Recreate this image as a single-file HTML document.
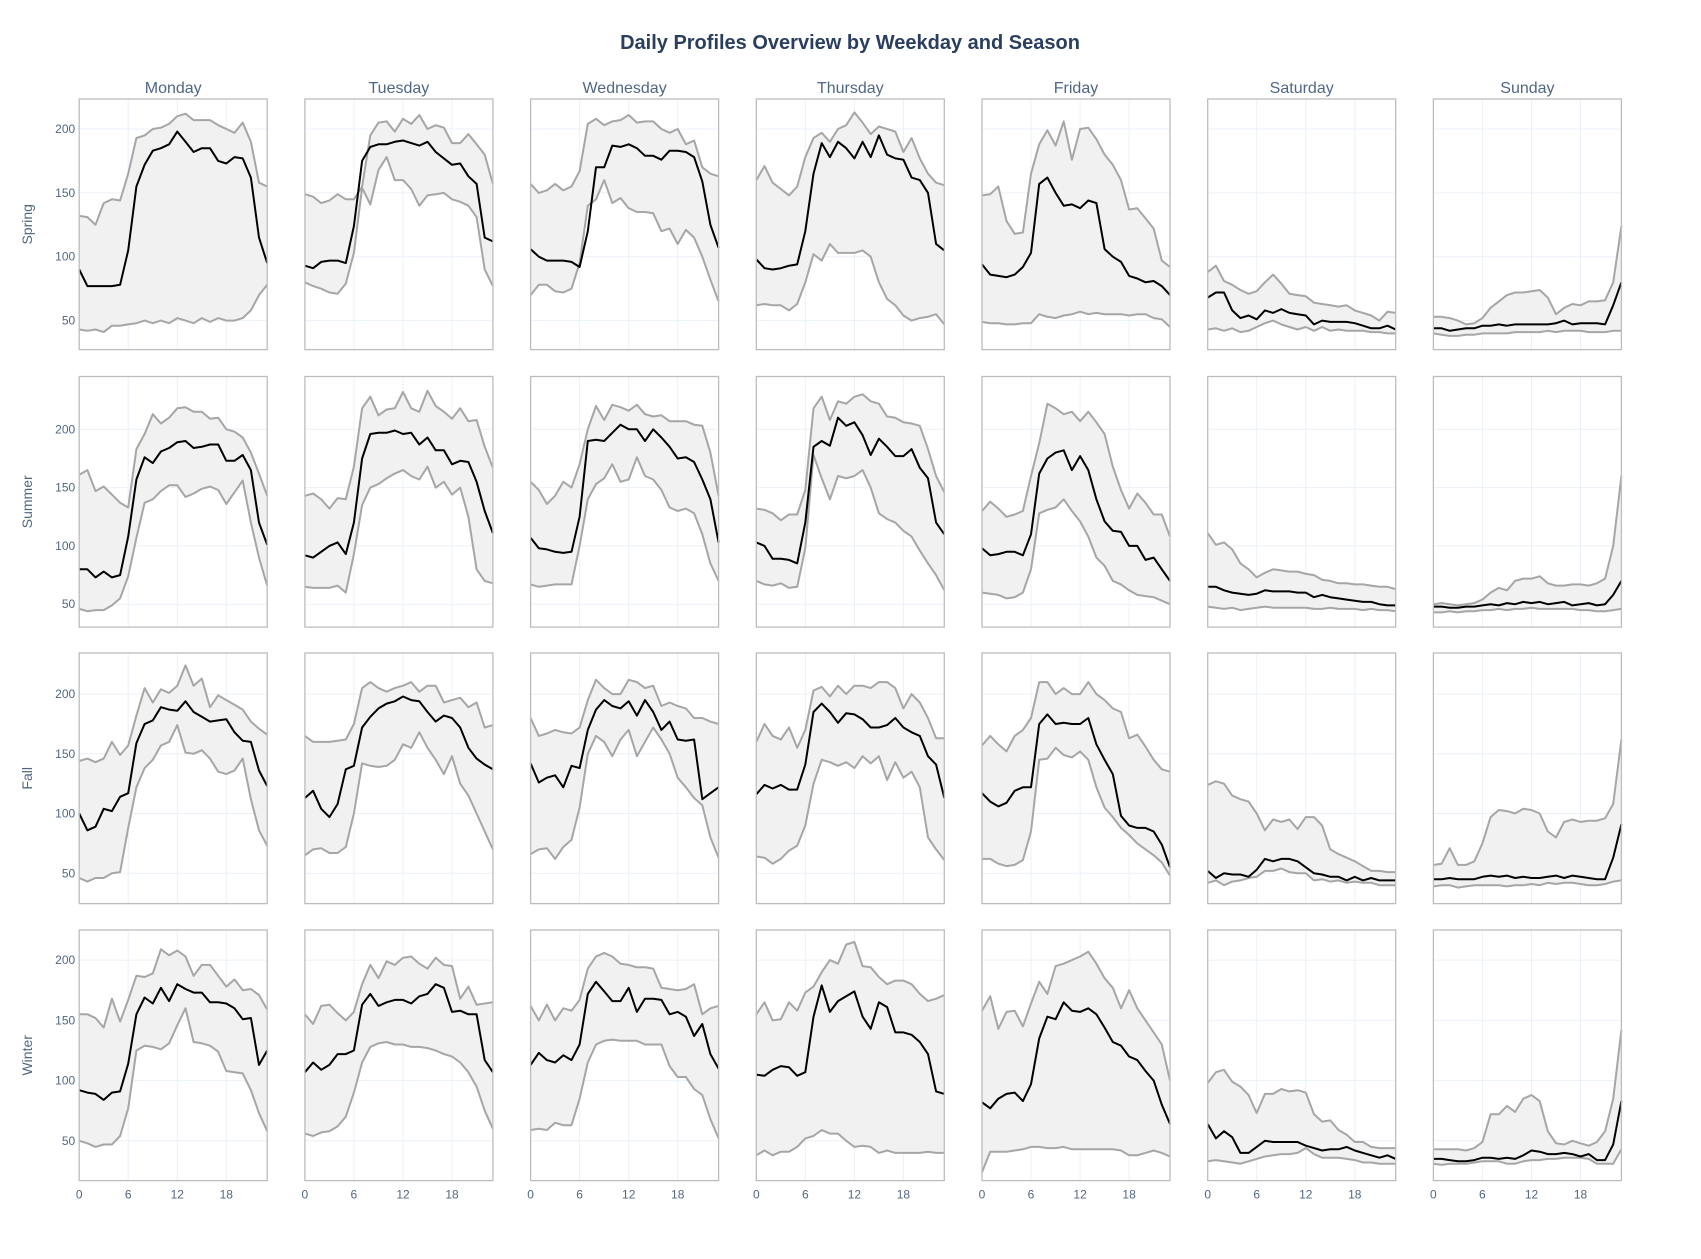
<!DOCTYPE html>
<html><head><meta charset="utf-8">
<style>
html,body{margin:0;padding:0;background:#fff;}
svg{display:block;font-family:"Liberation Sans","DejaVu Sans",sans-serif;}
</style></head>
<body>
<svg id="s" width="1701" height="1259" viewBox="0 0 1701 1259" xmlns="http://www.w3.org/2000/svg">
<rect width="1701" height="1259" fill="#fff"/>
<text x="850" y="49" text-anchor="middle" font-size="20" font-weight="bold" fill="#2a3f5f">Daily Profiles Overview by Weekday and Season</text>
</svg>
<script>
var days=["Monday","Tuesday","Wednesday","Thursday","Friday","Saturday","Sunday"];
var seasons=["Spring","Summer","Fall","Winter"];
var ranges=[[27.3,223.5],[30.4,245.3],[24.6,234.4],[17,225]];
var rowTop=[99,376.5,653,930], H=250.6, W=188;
function colLeft(c){return 79.2+c*225.7;}
// data[row][col] = [upper, mean, lower]
var D=[
[ // Spring
[[132,131,125,142,145,144,165,193,195,200,201,204,210,212,207,207,207,203,200,197,205,190,158,155],
 [90,77,77,77,77,78,105,155,172,183,185,188,198,190,182,185,185,175,173,178,177,162,115,95],
 [43,42,43,41,46,46,47,48,50,48,50,48,52,50,48,52,49,52,50,50,52,58,70,78]],
[[149,147,142,144,149,145,145,155,195,205,206,198,208,204,211,200,203,201,189,189,196,188,180,157],
 [93,91,96,97,97,95,124,175,186,188,188,190,191,189,187,190,182,177,172,173,163,157,115,112],
 [80,77,75,72,71,79,103,154,141,168,178,160,160,153,140,148,149,150,145,143,140,131,90,77]],
[[157,150,152,157,152,155,167,204,208,203,206,207,211,205,206,206,200,197,200,188,191,170,165,163],
 [106,100,97,97,97,96,92,120,170,170,187,186,188,185,179,179,176,183,183,182,178,159,125,107],
 [70,78,78,73,72,75,95,140,145,160,142,146,138,135,135,134,120,122,110,121,115,100,82,65]],
[[160,171,158,153,148,155,178,193,197,190,200,203,213,205,196,202,200,198,182,193,177,165,158,156],
 [98,91,90,91,93,94,120,165,189,178,190,185,177,190,178,195,180,177,176,162,160,150,110,105],
 [62,63,62,62,58,63,80,102,97,110,103,103,103,105,100,80,67,62,54,50,52,53,55,47]],
[[148,149,155,128,118,119,165,188,199,187,206,176,200,201,192,180,172,160,137,138,130,122,97,92],
 [94,86,85,84,86,92,103,157,162,150,140,141,138,144,142,106,100,96,85,83,80,81,77,70],
 [49,48,48,47,47,48,48,55,53,52,54,55,57,55,56,55,55,55,54,55,55,52,51,45]],
[[88,93,81,78,74,71,73,80,86,79,71,70,69,64,63,62,61,62,58,56,54,50,57,56],
 [68,72,72,58,52,54,51,58,56,59,56,55,54,47,50,49,49,49,48,46,44,44,46,43],
 [43,44,42,44,41,42,45,48,50,47,45,43,45,42,45,42,43,42,42,42,41,41,40,40]],
[[53,53,52,50,47,48,52,60,65,70,72,72,73,74,68,55,60,63,62,65,65,66,80,124],
 [44,44,42,43,44,44,46,46,47,46,47,47,47,47,47,48,50,47,48,48,48,47,62,80],
 [40,39,38,38,39,39,40,40,40,40,41,41,41,41,42,41,42,42,42,41,41,41,42,42]]
],
[ // Summer
[[161,165,147,151,144,137,133,183,196,213,205,210,218,219,215,215,209,210,200,198,193,180,162,143],
 [80,80,73,78,73,75,108,157,176,171,181,184,189,190,184,185,187,187,173,173,178,165,120,101],
 [46,44,45,45,49,55,74,107,137,140,147,152,152,142,145,149,151,148,136,146,156,120,90,66]],
[[143,145,140,132,141,140,168,218,228,212,217,218,232,218,215,233,220,215,209,218,207,208,185,167],
 [92,90,95,100,103,93,120,175,196,197,197,199,196,197,187,193,182,182,170,173,172,155,130,111],
 [65,64,64,64,66,60,93,135,150,153,158,162,165,160,157,168,150,155,144,150,125,80,70,68]],
[[155,148,136,143,155,150,170,200,220,208,221,219,216,221,213,211,212,207,207,207,204,203,180,143],
 [107,98,97,95,94,95,125,190,191,190,197,204,200,200,190,200,193,185,175,176,172,157,140,103],
 [67,65,66,67,67,67,100,140,153,158,170,155,157,176,160,157,148,133,130,132,128,110,85,70]],
[[132,131,128,122,127,127,148,218,228,208,224,222,228,230,224,222,211,210,206,205,203,183,160,146],
 [103,100,89,89,88,85,120,185,190,186,210,203,206,195,178,192,185,177,177,183,167,158,120,110],
 [70,67,66,68,64,65,98,178,158,140,160,158,160,165,150,128,123,120,113,108,96,85,75,62]],
[[130,138,132,125,127,130,160,188,222,218,213,215,207,215,206,196,168,148,132,145,137,127,127,108],
 [98,92,93,95,95,92,110,162,175,180,182,165,177,165,140,121,113,112,100,100,88,90,80,70],
 [60,59,58,55,56,60,80,128,131,133,140,130,121,108,90,83,70,67,62,58,57,56,53,50]],
[[111,101,103,97,85,80,73,77,80,79,78,78,76,75,71,70,68,68,67,67,66,65,65,63],
 [65,65,62,60,59,58,59,62,61,61,61,60,60,56,58,56,55,54,53,52,52,50,49,49],
 [48,47,46,47,45,46,47,48,47,47,47,47,47,46,46,47,46,46,46,45,46,45,45,44]],
[[50,51,50,49,50,51,54,60,64,62,70,72,72,74,68,66,66,67,67,66,68,72,100,160],
 [48,48,47,47,48,48,49,50,49,51,50,52,51,52,50,51,52,49,50,51,49,50,58,70],
 [43,43,44,43,44,44,45,45,46,45,46,46,47,46,46,46,46,46,45,45,44,44,45,46]]
],
[ // Fall
[[144,146,143,146,160,149,157,182,205,193,204,201,207,224,207,213,189,199,195,191,187,177,171,166],
 [100,86,89,104,102,114,117,159,175,178,189,187,186,194,185,181,177,178,179,168,161,160,136,123],
 [46,43,46,46,50,51,88,122,138,145,157,160,174,151,150,153,146,135,133,136,146,112,86,73]],
[[165,160,160,160,161,162,175,205,210,205,202,205,207,210,202,207,207,193,195,197,189,193,172,174],
 [113,119,104,97,108,137,140,172,181,188,192,194,198,195,194,185,177,182,180,172,155,146,141,137],
 [65,70,71,67,67,72,100,142,140,139,140,145,158,155,168,155,145,133,148,125,115,100,85,70]],
[[180,165,167,170,168,167,172,195,212,205,200,200,212,210,205,207,190,193,190,188,180,180,177,175],
 [142,126,130,132,122,140,138,170,187,195,190,188,194,182,195,185,170,177,162,161,162,112,117,122],
 [66,70,71,62,72,78,105,150,165,160,148,162,170,148,160,172,162,150,130,122,113,107,80,63]],
[[160,175,165,162,172,155,170,203,206,198,207,200,207,207,205,210,210,205,188,200,193,180,163,163],
 [116,124,121,124,120,120,141,185,192,185,176,184,183,179,172,172,174,180,172,168,165,148,141,113],
 [64,63,58,62,69,73,90,125,145,143,140,143,138,148,142,148,128,143,130,135,122,80,70,61]],
[[157,165,158,152,165,170,180,210,210,200,205,200,200,210,200,195,188,185,163,166,156,145,137,135],
 [117,110,106,109,119,122,122,175,183,175,176,175,175,180,158,145,133,98,90,88,88,85,74,55],
 [62,62,58,56,57,61,85,145,146,155,149,147,152,145,122,105,97,88,82,75,70,65,59,48]],
[[124,127,125,115,112,110,100,86,95,93,95,87,97,97,90,70,66,63,60,56,52,52,51,51],
 [52,46,50,49,49,47,53,62,60,62,62,60,55,50,49,47,47,44,47,44,46,44,44,44],
 [42,44,40,43,44,46,47,52,52,54,51,50,50,44,45,43,44,42,43,42,42,40,40,40]],
[[57,58,71,57,57,60,75,97,103,102,100,104,103,100,85,80,93,95,93,94,94,96,108,162],
 [45,45,46,45,45,45,47,48,47,48,46,47,46,46,47,48,46,48,47,46,45,45,63,91],
 [39,40,40,38,39,40,40,40,40,39,40,40,41,40,42,41,42,42,41,40,40,41,43,44]]
],
[ // Winter
[[155,155,152,144,168,149,167,187,186,189,209,204,208,203,187,196,196,187,178,184,175,176,171,159],
 [92,90,89,84,90,91,114,155,169,164,177,166,180,176,173,173,165,165,164,160,151,152,113,125],
 [50,48,45,47,47,54,77,125,129,128,126,131,146,160,132,131,129,124,108,107,106,92,73,58]],
[[155,147,162,163,156,150,157,180,196,185,199,196,202,203,197,193,202,196,195,168,178,163,164,165],
 [107,115,109,113,122,122,125,163,172,162,165,167,167,164,170,172,180,177,157,158,155,155,117,107],
 [56,54,57,58,62,70,90,115,128,131,132,130,130,128,128,127,125,122,120,115,107,95,75,60]],
[[162,150,163,150,160,158,167,193,203,206,203,197,196,194,194,193,177,176,175,176,180,155,160,162],
 [113,123,117,115,121,117,130,172,182,174,166,166,177,157,168,168,167,155,157,153,137,147,122,110],
 [59,60,59,65,63,63,85,115,130,133,134,133,133,133,130,130,130,112,103,103,93,88,68,52]],
[[155,165,150,151,165,158,173,178,190,200,197,213,215,195,194,186,180,183,183,180,172,166,168,171],
 [105,104,109,112,111,104,107,153,179,157,166,170,174,153,143,165,161,140,140,138,132,122,91,89],
 [38,42,38,41,41,45,52,54,59,56,56,50,45,46,45,40,42,40,40,40,40,41,40,40]],
[[158,170,143,157,158,145,164,182,172,195,197,200,203,207,197,185,177,160,175,160,150,140,130,100],
 [82,77,85,89,90,83,97,135,153,151,165,158,157,160,155,144,132,129,120,117,108,100,80,64],
 [24,41,41,41,42,43,45,45,44,44,45,43,43,43,43,43,43,42,38,38,40,42,40,37]],
[[98,107,109,99,95,88,73,89,89,93,91,92,90,72,66,67,59,55,49,49,45,44,44,44],
 [64,52,58,53,40,40,45,50,49,49,49,49,46,44,42,43,43,45,42,40,38,36,38,35],
 [33,34,33,32,31,33,35,37,38,39,39,40,44,39,36,36,36,35,34,32,32,31,31,31]],
[[43,43,43,43,42,44,49,72,72,79,74,85,88,83,58,48,47,50,48,46,49,58,85,142],
 [35,35,34,33,33,34,36,36,35,36,35,38,42,41,39,39,40,39,37,39,34,34,47,83],
 [31,30,31,31,31,32,33,33,33,31,31,33,34,34,35,35,36,36,36,35,31,31,31,43]]
]
];
var NS="http://www.w3.org/2000/svg", svg=document.getElementById("s");
function el(n,a,t){var e=document.createElementNS(NS,n);for(var k in a)e.setAttribute(k,a[k]);if(t!==undefined)e.textContent=t;svg.appendChild(e);return e;}
var out="";
for(var r=0;r<4;r++){
  var y0=rowTop[r], lo=ranges[r][0], hi=ranges[r][1];
  function Y(v){return y0+H-(v-lo)/(hi-lo)*H;}
  for(var c=0;c<7;c++){
    var x0=colLeft(c);
    function X(h){return x0+h/23*W;}
    var g="";
    g+='<rect x="'+x0+'" y="'+y0+'" width="'+W+'" height="'+H+'" fill="#fff"/>';
    [50,100,150,200].forEach(function(v){var yy=Y(v).toFixed(1);g+='<line x1="'+x0+'" x2="'+(x0+W)+'" y1="'+yy+'" y2="'+yy+'" stroke="#ebf0f8" stroke-width="1"/>';});
    [6,12,18].forEach(function(h){var xx=X(h).toFixed(1);g+='<line x1="'+xx+'" x2="'+xx+'" y1="'+y0+'" y2="'+(y0+H)+'" stroke="#ebf0f8" stroke-width="1"/>';});
    var d=D[r][c], up=d[0], mn=d[1], lw=d[2];
    var pu=up.map(function(v,i){return X(i).toFixed(1)+","+Y(v).toFixed(1);});
    var pl=lw.map(function(v,i){return X(i).toFixed(1)+","+Y(v).toFixed(1);});
    var pm=mn.map(function(v,i){return X(i).toFixed(1)+","+Y(v).toFixed(1);});
    g+='<polygon points="'+pu.join(" ")+" "+pl.slice().reverse().join(" ")+'" fill="#f1f1f1"/>';
    g+='<polyline points="'+pu.join(" ")+'" fill="none" stroke="#a6a6a6" stroke-width="2" stroke-linejoin="round"/>';
    g+='<polyline points="'+pl.join(" ")+'" fill="none" stroke="#a6a6a6" stroke-width="2" stroke-linejoin="round"/>';
    g+='<polyline points="'+pm.join(" ")+'" fill="none" stroke="#000" stroke-width="2" stroke-linejoin="round"/>';
    g+='<rect x="'+x0+'" y="'+y0+'" width="'+W+'" height="'+H+'" fill="none" stroke="#bdbdbd" stroke-width="1.3"/>';
    if(c==0){
      [50,100,150,200].forEach(function(v){g+='<text x="'+(x0-4)+'" y="'+(Y(v)+4).toFixed(1)+'" text-anchor="end" font-size="12" fill="#506784">'+v+'</text>';});
      var cy=y0+H/2;
      g+='<text x="32" y="'+cy+'" transform="rotate(-90 32 '+cy+')" text-anchor="middle" font-size="14" fill="#506784">'+seasons[r]+'</text>';
    }
    if(r==0){g+='<text x="'+(x0+W/2)+'" y="93" text-anchor="middle" font-size="16" fill="#506784">'+days[c]+'</text>';}
    if(r==3){[0,6,12,18].forEach(function(h){g+='<text x="'+X(h).toFixed(1)+'" y="'+(y0+H+18)+'" text-anchor="middle" font-size="12" fill="#506784">'+h+'</text>';});}
    out+=g;
  }
}
svg.insertAdjacentHTML("beforeend",out);
</script>
</body></html>
